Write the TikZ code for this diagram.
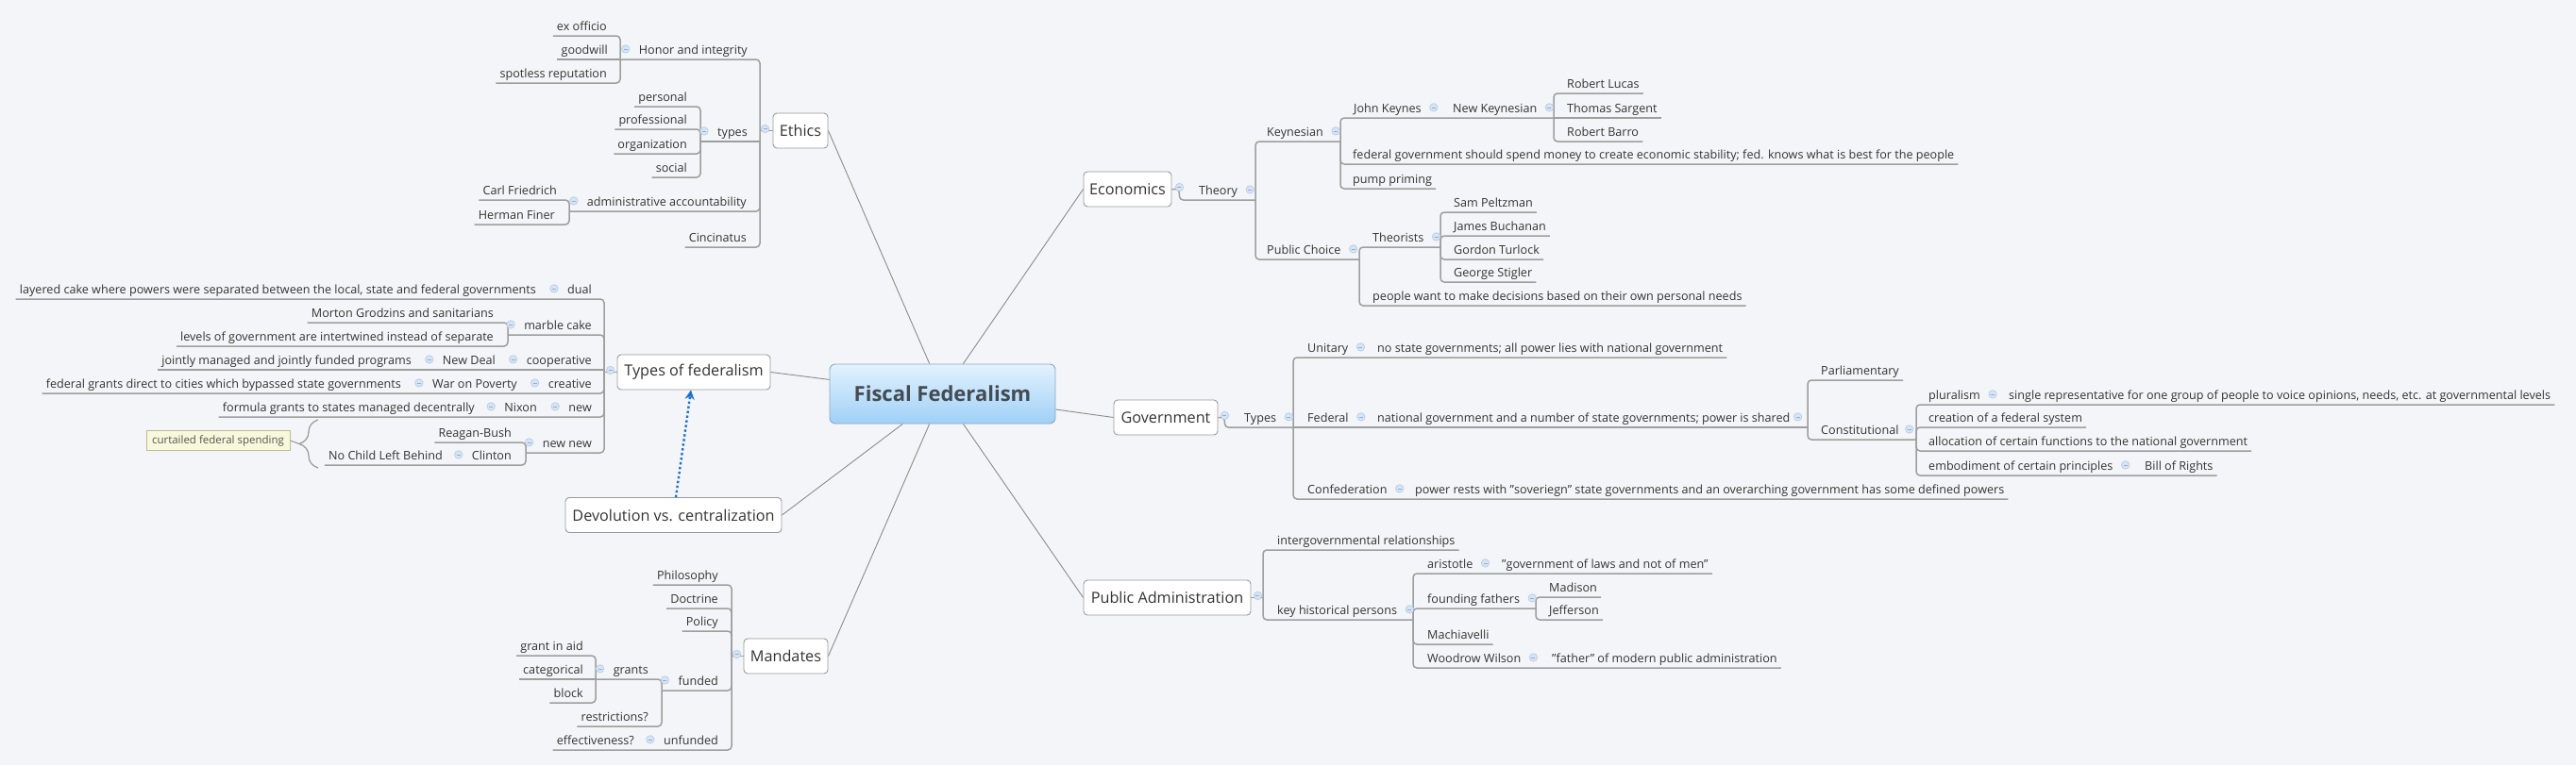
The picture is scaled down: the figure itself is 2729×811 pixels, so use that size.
\documentclass[tikz,border=0pt]{standalone}
\usepackage{fontspec}
\setmainfont{Open Sans}
\usepackage{tikz}
\usetikzlibrary{arrows.meta, decorations.pathreplacing}
\usepackage{xcolor}

\definecolor{bgc}{HTML}{F3F5F8}
\definecolor{ink}{HTML}{333333}
\definecolor{lnc}{HTML}{9E9E9E}
\definecolor{spk}{HTML}{8C8C8C}
\definecolor{boxline}{HTML}{9A9A9A}
\definecolor{ctrline}{HTML}{86A9CB}
\definecolor{ctrtop}{HTML}{E3F2FE}
\definecolor{ctrbot}{HTML}{9FD0F6}
\definecolor{ctrink}{HTML}{434B53}
\definecolor{notefill}{HTML}{F8F8DC}
\definecolor{noteline}{HTML}{BDBD93}
\definecolor{noteink}{HTML}{555555}
\definecolor{relc}{HTML}{1F6FD1}
\definecolor{knobfill}{HTML}{D6E4F4}
\definecolor{knobline}{HTML}{BCD0E8}
\definecolor{knobdash}{HTML}{95AECF}

\newcommand{\smallsz}{\fontsize{12.6}{15}\selectfont}
\newcommand{\midsz}{\fontsize{16.2}{19}\selectfont}
\newcommand{\ctrsz}{\fontsize{22}{26}\selectfont\bfseries}
\newcommand{\notesz}{\fontsize{11.5}{13}\selectfont}

% collapse button next to a topic: node anchor, x offset
\newcommand{\knob}[2]{%
  \filldraw[fill=knobfill, draw=knobline, line width=0.8pt] ([shift={(#2,-2)}]#1) circle (4.2);
  \draw[knobdash, line width=0.8pt] ([shift={(#2-2,-2)}]#1) -- ([shift={(#2+2,-2)}]#1);}

\tikzset{
  tp/.style={font=\smallsz, text=ink, inner xsep=4pt, inner ysep=2.5pt, text height=9.5pt, text depth=3.3pt},
  tpl/.style={tp, anchor=south east},
  tpr/.style={tp, anchor=south west},
  br/.style={draw=lnc, line width=1.5pt, rounded corners=4pt},
  spoke/.style={draw=spk, line width=0.9pt},
  mt/.style={draw=boxline, fill=white, rounded corners=4pt, font=\midsz, text=ink, minimum height=37pt, inner sep=0pt, line width=0.9pt},
  ctr/.style={draw=ctrline, top color=ctrtop, bottom color=ctrbot, rounded corners=6pt, minimum width=239pt, minimum height=63pt, inner sep=0pt, font=\ctrsz, text=ctrink, line width=0.9pt},
  note/.style={draw=noteline, fill=notefill, font=\notesz, text=noteink, minimum width=152pt, minimum height=21pt, inner sep=0pt, line width=0.8pt},
  rel/.style={draw=relc, line width=2.4pt, dash pattern=on 2.4pt off 2.6pt, -{Stealth[length=10pt, width=10pt]}}
}

\begin{document}
\begin{tikzpicture}[x=1pt, y=-1pt]
  \useasboundingbox (0,0) rectangle (2729,811);
  \fill[bgc] (0,0) rectangle (2729,811);

  % Central topic and main topics
  \node[ctr] (ctr) at (998.5,417.5) {Fiscal Federalism};
  \node[mt, minimum width=58pt] (eth) at (848,138.5) {Ethics};
  \node[mt, minimum width=162pt] (tof) at (735,394.5) {Types of federalism};
  \node[mt, minimum width=229pt] (dev) at (713.5,546) {Devolution vs. centralization};
  \node[mt, minimum width=89pt] (man) at (832.5,695.5) {Mandates};
  \node[mt, minimum width=93pt] (eco) at (1194.5,200.5) {Economics};
  \node[mt, minimum width=110pt] (gov) at (1235,442.5) {Government};
  \node[mt, minimum width=177pt] (pa) at (1236.5,633.5) {Public Administration};

  \draw[spoke] (ctr) -- (eth.east);
  \draw[spoke] (ctr) -- (tof.east);
  \draw[spoke] (ctr) -- (dev.east);
  \draw[spoke] (ctr) -- (man.east);
  \draw[spoke] (ctr) -- (eco.west);
  \draw[spoke] (ctr) -- (gov.west);
  \draw[spoke] (ctr) -- (pa.west);

  % Ethics
  \coordinate (ethJ) at (805,150);
  \coordinate (honJ) at (657,63);
  \coordinate (typJ) at (742,150);
  \coordinate (admJ) at (603,224);
  \node[tpl] (hon) at (796,63) {Honor and integrity};
  \node[tpl] (exo) at (647,38) {ex officio};
  \node[tpl] (gw) at (648,63) {goodwill};
  \node[tpl] (sr) at (647,88) {spotless reputation};
  \node[tpl] (typ) at (796,150) {types};
  \node[tpl] (prs) at (732,113) {personal};
  \node[tpl] (prf) at (732,137) {professional};
  \node[tpl] (org) at (732,163) {organization};
  \node[tpl] (soc) at (732,188) {social};
  \node[tpl] (adm) at (795,224) {administrative accountability};
  \node[tpl] (cfr) at (594,212) {Carl Friedrich};
  \node[tpl] (hfi) at (592,238) {Herman Finer};
  \node[tpl] (cin) at (795,262) {Cincinatus};

  \draw[br] (eth.west) -- (eth.west -| ethJ);
  \draw[br] (ethJ) |- (hon.south east) -- (honJ);
  \draw[br] (ethJ) -- (typ.south east) -- (typJ);
  \draw[br] (ethJ) |- (adm.south east) -- (admJ);
  \draw[br] (ethJ) |- (cin.south east) -- (cin.south west);
  \draw[br] (honJ) |- (exo.south east) -- (exo.south west);
  \draw[br] (honJ) -- (gw.south east) -- (gw.south west);
  \draw[br] (honJ) |- (sr.south east) -- (sr.south west);
  \draw[br] (typJ) |- (prs.south east) -- (prs.south west);
  \draw[br] (typJ) |- (prf.south east) -- (prf.south west);
  \draw[br] (typJ) |- (org.south east) -- (org.south west);
  \draw[br] (typJ) |- (soc.south east) -- (soc.south west);
  \draw[br] (admJ) |- (cfr.south east) -- (cfr.south west);
  \draw[br] (admJ) |- (hfi.south east) -- (hfi.south west);
  \knob{eth.west}{-8}
  \knob{hon.west}{-10}
  \knob{typ.west}{-10}
  \knob{adm.west}{-10}

  % Types of federalism
  \coordinate (tofJ) at (640,392);
  \coordinate (mcJ) at (538,355);
  \coordinate (nnJ) at (557,480);
  \node[tpl] (dual) at (631,317) {dual};
  \node[tpl] (lay) at (572,317) {layered cake where powers were separated between the local, state and federal governments};
  \node[tpl] (mc) at (631,355) {marble cake};
  \node[tpl] (mg) at (527,342) {Morton Grodzins and sanitarians};
  \node[tpl] (lv) at (527,367) {levels of government are intertwined instead of separate};
  \node[tpl] (coop) at (631,392) {cooperative};
  \node[tpl] (nd) at (529,392) {New Deal};
  \node[tpl] (jm) at (440,392) {jointly managed and jointly funded programs};
  \node[tpl] (cre) at (631,417) {creative};
  \node[tpl] (wp) at (552,417) {War on Poverty};
  \node[tpl] (fg) at (429,417) {federal grants direct to cities which bypassed state governments};
  \node[tpl] (nw) at (631,442) {new};
  \node[tpl] (nx) at (573,442) {Nixon};
  \node[tpl] (fm) at (507,442) {formula grants to states managed decentrally};
  \node[tpl] (nn) at (631,480) {new new};
  \node[tpl] (rb) at (546,469) {Reagan-Bush};
  \node[tpl] (cl) at (546,493) {Clinton};
  \node[tpl] (nc) at (473,493) {No Child Left Behind};

  \draw[br] (tof.west) -- (tof.west -| tofJ);
  \draw[br] (tofJ) |- (dual.south east) -- (lay.south west);
  \draw[br] (tofJ) |- (mc.south east) -- (mcJ);
  \draw[br] (tofJ) -- (coop.south east) -- (jm.south west);
  \draw[br] (tofJ) |- (cre.south east) -- (fg.south west);
  \draw[br] (tofJ) |- (nw.south east) -- (fm.south west);
  \draw[br] (tofJ) |- (nn.south east) -- (nnJ);
  \draw[br] (mcJ) |- (mg.south east) -- (mg.south west);
  \draw[br] (mcJ) |- (lv.south east) -- (lv.south west);
  \draw[br] (nnJ) |- (rb.south east) -- (rb.south west);
  \draw[br] (nnJ) |- (cl.south east) -- (nc.south west);
  \knob{tof.west}{-7}
  \knob{dual.west}{-10}
  \knob{mc.west}{-10}
  \knob{coop.west}{-10}
  \knob{nd.west}{-10}
  \knob{cre.west}{-10}
  \knob{wp.west}{-10}
  \knob{nw.west}{-10}
  \knob{nx.west}{-10}
  \knob{nn.west}{-10}
  \knob{cl.west}{-10}

  % summary of the last two
  \node[note] (cfs) at (231,467) {curtailed federal spending};
  \coordinate (btip) at (317,470.5);
  \draw[lnc, line width=1.3pt, decorate, decoration={brace, amplitude=20pt, aspect=0.5}] (337,496) -- (337,445);
  \draw[lnc, line width=1.1pt] (cfs.east) -- (btip);

  % Devolution vs. centralization points to types of federalism
  \draw[rel] ([xshift=2.5pt]dev.north) -- ([xshift=-3pt]tof.south);

  % Mandates
  \coordinate (manJ) at (775,696);
  \coordinate (fuJ) at (701,732);
  \coordinate (grJ) at (631,720);
  \node[tpl] (ph) at (765,620) {Philosophy};
  \node[tpl] (doc) at (765,645) {Doctrine};
  \node[tpl] (pol) at (765,669) {Policy};
  \node[tpl] (fu) at (765,732) {funded};
  \node[tpl] (gr) at (691,720) {grants};
  \node[tpl] (ga) at (622,695) {grant in aid};
  \node[tpl] (cat) at (622,720) {categorical};
  \node[tpl] (blk) at (622,745) {block};
  \node[tpl] (res) at (691,770) {restrictions?};
  \node[tpl] (unf) at (765,795) {unfunded};
  \node[tpl] (eff) at (676,795) {effectiveness?};

  \draw[br] (man.west) -- (man.west -| manJ);
  \draw[br] (manJ) |- (ph.south east) -- (ph.south west);
  \draw[br] (manJ) |- (doc.south east) -- (doc.south west);
  \draw[br] (manJ) |- (pol.south east) -- (pol.south west);
  \draw[br] (manJ) |- (fu.south east) -- (fuJ);
  \draw[br] (manJ) |- (unf.south east) -- (eff.south west);
  \draw[br] (fuJ) |- (gr.south east) -- (grJ);
  \draw[br] (fuJ) |- (res.south east) -- (res.south west);
  \draw[br] (grJ) |- (ga.south east) -- (ga.south west);
  \draw[br] (grJ) -- (cat.south east) -- (cat.south west);
  \draw[br] (grJ) |- (blk.south east) -- (blk.south west);
  \knob{man.west}{-7}
  \knob{fu.west}{-10}
  \knob{gr.west}{-10}
  \knob{unf.west}{-10}

  % Economics
  \coordinate (thJ) at (1330,212);
  \coordinate (keyJ) at (1420,150);
  \coordinate (nkJ) at (1646,125);
  \coordinate (pcJ) at (1440,275);
  \coordinate (thrJ) at (1526,262);
  \node[tpr] (th) at (1266,212) {Theory};
  \node[tpr] (key) at (1338,150) {Keynesian};
  \node[tpr] (jk) at (1430,125) {John Keynes};
  \node[tpr] (nk) at (1535,125) {New Keynesian};
  \node[tpr] (rl) at (1656,99) {Robert Lucas};
  \node[tpr] (ts) at (1656,125) {Thomas Sargent};
  \node[tpr] (rba) at (1656,150) {Robert Barro};
  \node[tpr] (fgs) at (1429,174) {federal government should spend money to create economic stability; fed. knows what is best for the people};
  \node[tpr] (pp) at (1429,200) {pump priming};
  \node[tpr] (pc) at (1338,275) {Public Choice};
  \node[tpr] (thr) at (1450,262) {Theorists};
  \node[tpr] (sp) at (1536,225) {Sam Peltzman};
  \node[tpr] (jb) at (1536,250) {James Buchanan};
  \node[tpr] (gt) at (1536,275) {Gordon Turlock};
  \node[tpr] (gst) at (1536,299) {George Stigler};
  \node[tpr] (pw) at (1450,324) {people want to make decisions based on their own personal needs};

  \draw[br] (eco.east) -- ++(8,0) |- (th.south west) -- (thJ);
  \draw[br] (thJ) |- (key.south west) -- (keyJ);
  \draw[br] (thJ) |- (pc.south west) -- (pcJ);
  \draw[br] (keyJ) |- (jk.south west) -- (nkJ);
  \draw[br] (keyJ) |- (fgs.south west) -- (fgs.south east);
  \draw[br] (keyJ) |- (pp.south west) -- (pp.south east);
  \draw[br] (nkJ) |- (rl.south west) -- (rl.south east);
  \draw[br] (nkJ) -- (ts.south west) -- (ts.south east);
  \draw[br] (nkJ) |- (rba.south west) -- (rba.south east);
  \draw[br] (pcJ) |- (thr.south west) -- (thrJ);
  \draw[br] (pcJ) |- (pw.south west) -- (pw.south east);
  \draw[br] (thrJ) |- (sp.south west) -- (sp.south east);
  \draw[br] (thrJ) |- (jb.south west) -- (jb.south east);
  \draw[br] (thrJ) |- (gt.south west) -- (gt.south east);
  \draw[br] (thrJ) |- (gst.south west) -- (gst.south east);
  \knob{eco.east}{8}
  \knob{th.east}{9}
  \knob{key.east}{9}
  \knob{jk.east}{9}
  \knob{nk.east}{9}
  \knob{pc.east}{9}
  \knob{thr.east}{9}

  % Government
  \coordinate (tyJ) at (1370,453);
  \coordinate (fedJ) at (1915,453);
  \coordinate (conJ) at (2030,466);
  \node[tpr] (ty) at (1314,453) {Types};
  \node[tpr] (un) at (1381,379) {Unitary};
  \node[tpr] (und) at (1455,379) {no state governments; all power lies with national government};
  \node[tpr] (fe) at (1381,453) {Federal};
  \node[tpr] (fed) at (1455,453) {national government and a number of state governments; power is shared};
  \node[tpr] (cnf) at (1381,529) {Confederation};
  \node[tpr] (cnd) at (1495,529) {power rests with "soveriegn" state governments and an overarching government has some defined powers};
  \node[tpr] (par) at (1925,403) {Parliamentary};
  \node[tpr] (con) at (1925,466) {Constitutional};
  \node[tpr] (plu) at (2039,429) {pluralism};
  \node[tpr] (plud) at (2124,429) {single representative for one group of people to voice opinions, needs, etc. at governmental levels};
  \node[tpr] (crf) at (2039,453) {creation of a federal system};
  \node[tpr] (alc) at (2039,478) {allocation of certain functions to the national government};
  \node[tpr] (emb) at (2039,504) {embodiment of certain principles};
  \node[tpr] (bor) at (2268,504) {Bill of Rights};

  \draw[br] (gov.east) -- ++(7,0) |- (ty.south west) -- (tyJ);
  \draw[br] (tyJ) |- (un.south west) -- (und.south east);
  \draw[br] (tyJ) -- (fe.south west) -- (fed.south east) -- (fedJ);
  \draw[br] (tyJ) |- (cnf.south west) -- (cnd.south east);
  \draw[br] (fedJ) |- (par.south west) -- (par.south east);
  \draw[br] (fedJ) |- (con.south west) -- (conJ);
  \draw[br] (conJ) |- (plu.south west) -- (plud.south east);
  \draw[br] (conJ) |- (crf.south west) -- (crf.south east);
  \draw[br] (conJ) |- (alc.south west) -- (alc.south east);
  \draw[br] (conJ) |- (emb.south west) -- (bor.south east);
  \knob{gov.east}{7}
  \knob{ty.east}{9}
  \knob{un.east}{9}
  \knob{fe.east}{9}
  \knob{fed.east}{4}
  \knob{cnf.east}{9}
  \knob{con.east}{7}
  \knob{plu.east}{9}
  \knob{emb.east}{9}

  % Public Administration
  \coordinate (paJ) at (1338,634);
  \coordinate (khpJ) at (1497,657);
  \coordinate (ffJ) at (1627,645);
  \node[tpr] (igr) at (1349,583) {intergovernmental relationships};
  \node[tpr] (khp) at (1349,657) {key historical persons};
  \node[tpr] (ari) at (1508,608) {aristotle};
  \node[tpr] (arid) at (1587,608) {"government of laws and not of men"};
  \node[tpr] (ff) at (1508,645) {founding fathers};
  \node[tpr] (mad) at (1637,633) {Madison};
  \node[tpr] (jef) at (1637,657) {Jefferson};
  \node[tpr] (mac) at (1508,683) {Machiavelli};
  \node[tpr] (ww) at (1508,708) {Woodrow Wilson};
  \node[tpr] (wwd) at (1640,708) {"father" of modern public administration};

  \draw[br] (pa.east) -- (pa.east -| paJ);
  \draw[br] (paJ) |- (igr.south west) -- (igr.south east);
  \draw[br] (paJ) |- (khp.south west) -- (khpJ);
  \draw[br] (khpJ) |- (ari.south west) -- (arid.south east);
  \draw[br] (khpJ) |- (ff.south west) -- (ffJ);
  \draw[br] (khpJ) |- (mac.south west) -- (mac.south east);
  \draw[br] (khpJ) |- (ww.south west) -- (wwd.south east);
  \draw[br] (ffJ) |- (mad.south west) -- (mad.south east);
  \draw[br] (ffJ) |- (jef.south west) -- (jef.south east);
  \knob{pa.east}{7}
  \knob{khp.east}{9}
  \knob{ari.east}{9}
  \knob{ff.east}{9}
  \knob{ww.east}{9}
\end{tikzpicture}
\end{document}
